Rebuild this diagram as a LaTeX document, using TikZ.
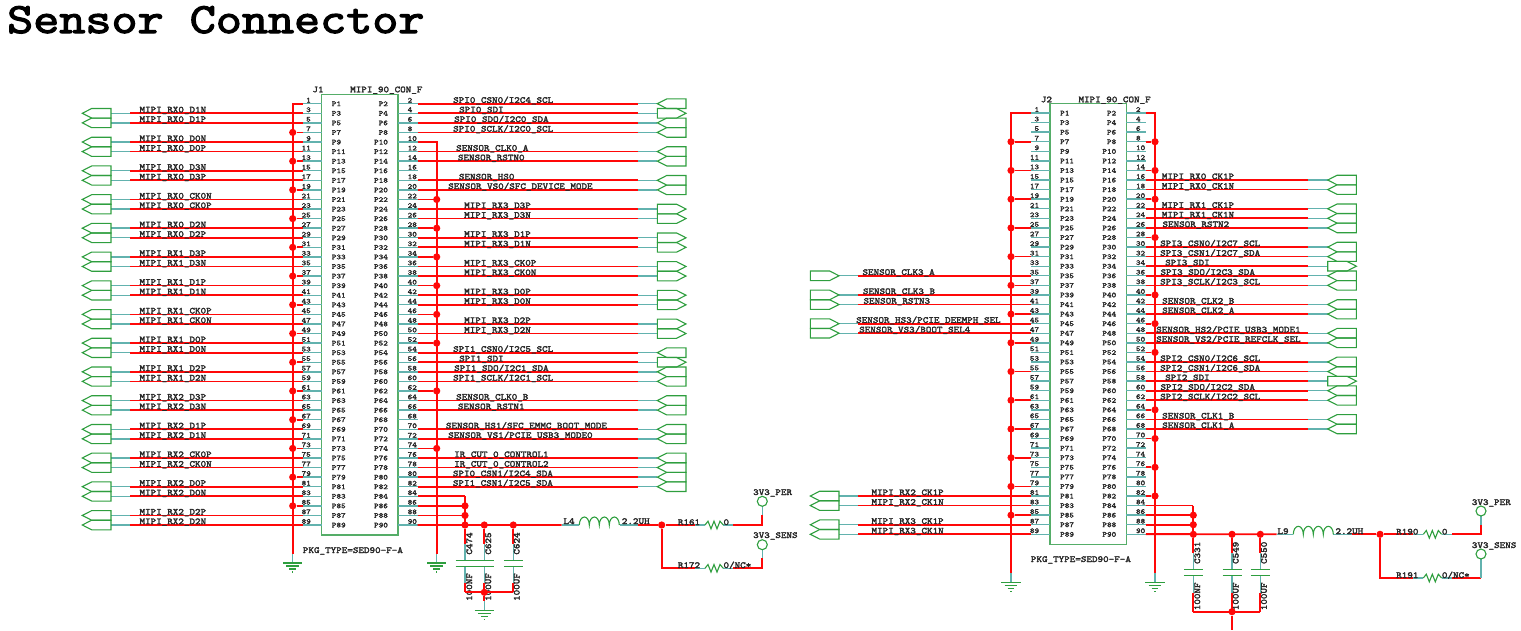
\documentclass[tikz,border=0pt]{standalone}
\usepackage{fontspec}
\newfontfamily\schfont{lmmono10-regular.otf}[FakeBold=2.6,FakeStretch=1.15]
\definecolor{wirered}{HTML}{FF0808}
\definecolor{pinteal}{HTML}{62B2AE}
\definecolor{partgreen}{HTML}{2E9E3E}
\definecolor{boxgreen}{HTML}{55AD68}
\definecolor{inkgrey}{HTML}{282828}
\tikzset{
  wire/.style={draw=wirered,line width=1.7pt},
  pin/.style={draw=pinteal,line width=1.4pt},
  part/.style={draw=partgreen,line width=1.1pt},
  joint/.style={circle,fill=wirered,inner sep=0pt,minimum size=7.2pt},
  lab/.style={inner sep=0pt,anchor=base west,text=inkgrey,font=\schfont\fontsize{9.2}{9.2}\selectfont},
  num/.style={inner sep=0pt,text=inkgrey,font=\schfont\fontsize{7.6}{7.6}\selectfont},
  % port pointing away to the left / to the right, anchored at its left end
  pl/.pic={\draw[part] (0,0) -- (9.4,-4.8) -- (28.7,-4.8) -- (28.7,4.8) -- (9.4,4.8) -- cycle;},
  pr/.pic={\draw[part] (0,-4.8) -- (19.3,-4.8) -- (28.7,0) -- (19.3,4.8) -- (0,4.8) -- cycle;},
  gnd/.pic={\draw[part] (-9.7,0) -- (9.7,0) (-6.4,3) -- (6.4,3) (-3.4,6) -- (3.4,6) (-0.7,9) -- (0.7,9);},
  cap/.pic={\draw[part] (-9.5,0) -- (9.5,0) (-9.5,6) -- (9.5,6);},
  res/.pic={\draw[part] (0,0) -- (3,-3.8) -- (6,3.8) -- (9,-3.8) -- (12,3.8) -- (15,-3.8) -- (18.3,0);},
  coil/.pic={\draw[part] (0,0) arc (180:0:5 and -8) arc (180:0:5 and -8) arc (180:0:5 and -8) arc (180:0:5 and -8);},
  pt/.pic={\draw[part] (0,0) circle (5);}
}
% connector body, pins and pin numbers: name, left edge of box, y of first row
\newcommand\mipicon[3]{%
  \begin{scope}[shift={(#2,#3)}]
    \draw[boxgreen,line width=1.4pt] (0,-9.5) rectangle (76.4,431.3);
    \foreach \k in {1,3,...,89} {
      \pgfmathsetmacro\yy{9.575*(\k-1)/2}
      \coordinate (#1o\k) at (-19.1,\yy);
      \coordinate (#1i\k) at (0,\yy);
      \draw[pin] (#1o\k) -- (#1i\k);
      \node[num,anchor=base east] (#1n\k) at (-10.7,\yy-1.2) {\k};
      \node[num,anchor=base west] (#1m\k) at (10,\yy+2.4) {P\k};
    }
    \foreach \k in {2,4,...,90} {
      \pgfmathsetmacro\yy{9.575*(\k-2)/2}
      \coordinate (#1o\k) at (95.8,\yy);
      \coordinate (#1i\k) at (76.4,\yy);
      \draw[pin] (#1o\k) -- (#1i\k);
      \node[num,anchor=base west] (#1n\k) at (85.8,\yy-1.2) {\k};
      \node[num,anchor=base east] (#1m\k) at (66.4,\yy+2.4) {P\k};
    }
  \end{scope}}
% net from a left hand port to a pin: connector, pin, text start, pic, text
\newcommand\lnet[5]{%
  \coordinate (e) at (#1o#2 -| #1wL);
  \coordinate (t) at (#1o#2 -| #1pL);
  \coordinate (a) at ([xshift=-28.7pt]t);
  \draw[wire] (#1o#2) -- (e);
  \draw[pin] (e) -- (t);
  \pic at (a) {#4};
  \node[lab] (#1t#2) at ([yshift=0.8pt]#3,0 |- #1o#2) {#5};}
\newcommand\rnet[5]{%
  \coordinate (e) at (#1o#2 -| #1wR);
  \coordinate (t) at (#1o#2 -| #1pR);
  \draw[wire] (#1o#2) -- (e);
  \draw[pin] (e) -- (t);
  \pic at (t) {#4};
  \node[lab] (#1t#2) at ([yshift=0.8pt]#3,0 |- #1o#2) {#5};}
% capacitor leg from the rail dot to the bottom rail:
% name, x, y of rail, y of bottom rail, ref, value, text x, length of red end
\newcommand\capleg[8]{%
  \node[joint] (#1d) at (#2,#3) {};
  \coordinate (#1w) at (#2,#3+19);
  \coordinate (#1p) at (#2,#3+35.5);
  \coordinate (#1q) at (#2,#3+41.5);
  \coordinate (#1r) at (#2,#4-#8);
  \coordinate (#1b) at (#2,#4);
  \draw[wire] (#1d) -- (#1w);
  \draw[pin] (#1w) -- (#1p) (#1q) -- (#1r);
  \draw[wire] (#1r) -- (#1b);
  \pic at (#1p) {cap};
  \node[lab,anchor=center,rotate=90] (#1t) at (#7,#3+18.5) {#5};
  \node[lab,anchor=center,rotate=90] (#1v) at (#7,#3+62) {#6};}
\catcode`\_=12
\begin{document}
\begin{tikzpicture}[x=1pt,y=-1pt]
\useasboundingbox (0,0) rectangle (1521,630);
\node[inner sep=0pt,anchor=base west,text=black,font=\schfont\fontsize{43.2}{43.2}\selectfont] (title) at (7,33) {Sensor Connector};

%----- J1
\coordinate (AwL) at (130,0);
\coordinate (ApL) at (111,0);
\coordinate (AwR) at (637.7,0);
\coordinate (ApR) at (657.3,0);
\coordinate (Abl) at (292.7,0);
\coordinate (Abr) at (436.7,0);
\mipicon{A}{321.7}{103.7}
\node[lab] (Aref) at (312.3,92.3) {J1};
\node[lab] (Aname) at (350,92.3) {MIPI_90_CON_F};
\node[lab] (Apkg) at (302.7,553) {PKG_TYPE=SED90-F-A};

% ground buses
\coordinate (Agl) at (292.7,554);
\coordinate (Agr) at (436.7,554);
\coordinate (Agl2) at (292.7,563);
\coordinate (Agr2) at (436.7,563);
\draw[wire] (Ao1) -| (Agl);
\draw[wire] (Ao10) -| (Agr);
\draw[pin] (Agl) -- (Agl2);
\draw[pin] (Agr) -- (Agr2);
\pic at (Agl2) {gnd};
\pic at (Agr2) {gnd};
\foreach \k in {7,13,19,25,31,37,43,49,55,61,67,73,79,85} {
  \node[joint] (Aj\k) at (Ao\k -| Abl) {};
  \draw[wire] (Ao\k) -- (Aj\k);
}
\foreach \k in {22,28,34,40,46,52,62,74} {
  \node[joint] (Aj\k) at (Ao\k -| Abr) {};
  \draw[wire] (Ao\k) -- (Aj\k);
}

% left nets
\foreach \k/\t in {3/MIPI_RX0_D1N,5/MIPI_RX0_D1P,9/MIPI_RX0_D0N,11/MIPI_RX0_D0P,
  15/MIPI_RX0_D3N,17/MIPI_RX0_D3P,21/MIPI_RX0_CK0N,23/MIPI_RX0_CK0P,
  27/MIPI_RX0_D2N,29/MIPI_RX0_D2P,33/MIPI_RX1_D3P,35/MIPI_RX1_D3N,
  39/MIPI_RX1_D1P,41/MIPI_RX1_D1N,45/MIPI_RX1_CK0P,47/MIPI_RX1_CK0N,
  51/MIPI_RX1_D0P,53/MIPI_RX1_D0N,57/MIPI_RX1_D2P,59/MIPI_RX1_D2N,
  63/MIPI_RX2_D3P,65/MIPI_RX2_D3N,69/MIPI_RX2_D1P,71/MIPI_RX2_D1N,
  75/MIPI_RX2_CK0P,77/MIPI_RX2_CK0N,81/MIPI_RX2_D0P,83/MIPI_RX2_D0N,
  87/MIPI_RX2_D2P,89/MIPI_RX2_D2N} {
  \lnet{A}{\k}{139.3}{pl}{\t}
}

% right nets
\foreach \k/\x/\p/\t in {2/453/pl/{SPI0_CSN0/I2C4_SCL},4/459/pr/{SPI0_SDI},
  6/454/pl/{SPI0_SDO/I2C0_SDA},8/453/pl/{SPI0_SCLK/I2C0_SCL},
  12/456/pl/{SENSOR_CLK0_A},14/457.7/pl/{SENSOR_RSTN0},
  18/458.7/pl/{SENSOR_HS0},20/448/pl/{SENSOR_VS0/SFC_DEVICE_MODE},
  24/464/pr/{MIPI_RX3_D3P},26/464/pr/{MIPI_RX3_D3N},
  30/464/pr/{MIPI_RX3_D1P},32/464/pr/{MIPI_RX3_D1N},
  36/464/pr/{MIPI_RX3_CK0P},38/464/pr/{MIPI_RX3_CK0N},
  42/464/pr/{MIPI_RX3_D0P},44/464/pr/{MIPI_RX3_D0N},
  48/464/pr/{MIPI_RX3_D2P},50/464/pr/{MIPI_RX3_D2N},
  54/453/pl/{SPI1_CSN0/I2C5_SCL},56/459/pr/{SPI1_SDI},
  58/454/pl/{SPI1_SDO/I2C1_SDA},60/453/pl/{SPI1_SCLK/I2C1_SCL},
  64/456/pl/{SENSOR_CLK0_B},66/457.7/pl/{SENSOR_RSTN1},
  70/445.7/pl/{SENSOR_HS1/SFC_EMMC_BOOT_MODE},72/448/pl/{SENSOR_VS1/PCIE_USB3_MODE0},
  76/454/pl/{IR_CUT_0_CONTROL1},78/454/pl/{IR_CUT_0_CONTROL2},
  80/452.7/pl/{SPI0_CSN1/I2C4_SDA},82/452.7/pl/{SPI1_CSN1/I2C5_SDA}} {
  \rnet{A}{\k}{\x}{\p}{\t}
}

% power pins and decoupling
\coordinate (Acol) at (465,0);
\foreach \k in {84,86,88,90} \draw[wire] (Ao\k) -- (Ao\k -| Acol);
\draw[wire] (Ao84 -| Acol) -- (Ao90 -| Acol);
\node[joint] (Aj86) at (Ao86 -| Acol) {};
\node[joint] (Aj88) at (Ao88 -| Acol) {};
\capleg{AC}{465}{525}{592.3}{C474}{100NF}{469.3}{9}
\capleg{AD}{484.3}{525}{592.3}{C625}{100UF}{488.3}{9}
\capleg{AE}{513.3}{525}{592.3}{C624}{100UF}{516.7}{9}
\draw[wire] (ACb) -- (AEb);
\node[joint] (AF) at (484.3,592.3) {};
\coordinate (AG) at (484.3,601);
\coordinate (AH) at (484.3,610.7);
\draw[wire] (AF) -- (AG);
\draw[pin] (AG) -- (AH);
\pic at (AH) {gnd};

% inductor, resistors and test points
\coordinate (Al1) at (561.7,525);
\coordinate (Al2) at (579.3,525);
\coordinate (Al3) at (620,525);
\coordinate (Al4) at (637.7,525);
\node[joint] (Am) at (661.7,525) {};
\draw[wire] (Ao90) -- (Al1);
\draw[pin] (Al1) -- (Al2) (Al3) -- (Al4);
\pic at (Al2) {coil};
\draw[wire] (Al4) -- (Am);
\node[lab] (Al) at (563.3,524) {L4};
\node[lab] (Alv) at (621.7,524) {2.2UH};
\coordinate (Ar1) at (695,525);
\coordinate (Ar2) at (705,525);
\coordinate (Ar3) at (723.3,525);
\coordinate (Ar4) at (733.3,525);
\coordinate (Ar5) at (762.3,525);
\coordinate (Ar6) at (762.3,515);
\coordinate (Ar7) at (762.3,506.3);
\coordinate (Ap1) at (762.3,501.3);
\draw[wire] (Am) -- (Ar1);
\draw[pin] (Ar1) -- (Ar2) (Ar3) -- (Ar4);
\pic at (Ar2) {res};
\draw[wire] (Ar4) -- (Ar5) -- (Ar6);
\draw[pin] (Ar6) -- (Ar7);
\pic at (Ap1) {pt};
\node[lab] (Ars) at (677.7,525) {R161};
\node[lab] (Arv) at (723.3,525) {0};
\node[lab] (Apn) at (753,495) {3V3_PER};
\coordinate (As0) at (661.7,568.3);
\coordinate (As1) at (695,568.3);
\coordinate (As2) at (705,568.3);
\coordinate (As3) at (723.3,568.3);
\coordinate (As4) at (733.3,568.3);
\coordinate (As5) at (762.3,568.3);
\coordinate (As6) at (762.3,558);
\coordinate (As7) at (762.3,549.7);
\coordinate (Ap2) at (762.3,544.7);
\draw[wire] (Am) -- (As0) -- (As1);
\draw[pin] (As1) -- (As2) (As3) -- (As4);
\pic at (As2) {res};
\draw[wire] (As4) -- (As5) -- (As6);
\draw[pin] (As6) -- (As7);
\pic at (Ap2) {pt};
\node[lab] (Ass) at (677.7,568) {R172};
\node[lab] (Asv) at (723.3,568) {0/NC*};
\node[lab] (Aqn) at (753,538) {3V3_SENS};

%----- J2
\coordinate (BwL) at (858,0);
\coordinate (BpL) at (839,0);
\coordinate (BwR) at (1308.3,0);
\coordinate (BpR) at (1327.7,0);
\coordinate (Bbl) at (1011,0);
\coordinate (Bbr) at (1155,0);
\mipicon{B}{1050}{113}
\node[lab] (Bref) at (1040.7,102.3) {J2};
\node[lab] (Bname) at (1078.3,102.3) {MIPI_90_CON_F};
\node[lab] (Bpkg) at (1030.7,562) {PKG_TYPE=SED90-F-A};

\coordinate (Bgl) at (1011,573.3);
\coordinate (Bgr) at (1155,573.3);
\coordinate (Bgl2) at (1011,582.3);
\coordinate (Bgr2) at (1155,582.3);
\draw[wire] (Bo1) -| (Bgl);
\draw[wire] (Bo2) -| (Bgr);
\draw[pin] (Bgl) -- (Bgl2);
\draw[pin] (Bgr) -- (Bgr2);
\pic at (Bgl2) {gnd};
\pic at (Bgr2) {gnd};
\foreach \k in {7,13,19,25,31,37,43,49,55,61,67,73,79,85} {
  \node[joint] (Bj\k) at (Bo\k -| Bbl) {};
  \draw[wire] (Bo\k) -- (Bj\k);
}
\foreach \k in {8,14,20,28,40,46,52,64,70,76,82} {
  \node[joint] (Bj\k) at (Bo\k -| Bbr) {};
  \draw[wire] (Bo\k) -- (Bj\k);
}

\foreach \k/\x/\p/\t in {35/862.3/pr/{SENSOR_CLK3_A},39/862.7/pr/{SENSOR_CLK3_B},
  41/863.3/pr/{SENSOR_RSTN3},45/856/pr/{SENSOR_HS3/PCIE_DEEMPH_SEL},
  47/859/pr/{SENSOR_VS3/BOOT_SEL4},81/871.3/pl/{MIPI_RX2_CK1P},
  83/871.3/pl/{MIPI_RX2_CK1N},87/871.3/pl/{MIPI_RX3_CK1P},89/871.3/pl/{MIPI_RX3_CK1N}} {
  \lnet{B}{\k}{\x}{\p}{\t}
}

\foreach \k/\x/\p/\t in {16/1161.7/pl/{MIPI_RX0_CK1P},18/1161.7/pl/{MIPI_RX0_CK1N},
  22/1161.7/pl/{MIPI_RX1_CK1P},24/1161.7/pl/{MIPI_RX1_CK1N},26/1162.3/pl/{SENSOR_RSTN2},
  30/1160/pl/{SPI3_CSN0/I2C7_SCL},32/1160/pl/{SPI3_CSN1/I2C7_SDA},34/1165/pr/{SPI3_SDI},
  36/1160.3/pl/{SPI3_SDO/I2C3_SDA},38/1160/pl/{SPI3_SCLK/I2C3_SCL},
  42/1162/pl/{SENSOR_CLK2_B},44/1162/pl/{SENSOR_CLK2_A},
  48/1156/pl/{SENSOR_HS2/PCIE_USB3_MODE1},50/1156/pl/{SENSOR_VS2/PCIE_REFCLK_SEL},
  54/1160/pl/{SPI2_CSN0/I2C6_SCL},56/1160/pl/{SPI2_CSN1/I2C6_SDA},58/1165/pr/{SPI2_SDI},
  60/1160.3/pl/{SPI2_SDO/I2C2_SDA},62/1160/pl/{SPI2_SCLK/I2C2_SCL},
  66/1162/pl/{SENSOR_CLK1_B},68/1162/pl/{SENSOR_CLK1_A}} {
  \rnet{B}{\k}{\x}{\p}{\t}
}

\coordinate (Bcol) at (1193.3,0);
\foreach \k in {84,86,88,90} \draw[wire] (Bo\k) -- (Bo\k -| Bcol);
\draw[wire] (Bo84 -| Bcol) -- (Bo90 -| Bcol);
\node[joint] (Bj86) at (Bo86 -| Bcol) {};
\node[joint] (Bj88) at (Bo88 -| Bcol) {};
\capleg{BC}{1193.3}{534.3}{611.7}{C331}{100NF}{1197.3}{19}
\capleg{BD}{1232}{534.3}{611.7}{C549}{100UF}{1235.7}{19}
\capleg{BE}{1260.3}{534.3}{611.7}{C550}{100UF}{1264}{19}
\draw[wire] (BCb) -- (BEb);
\node[joint] (BF) at (1232,611.7) {};
\coordinate (BG) at (1232,630);
\draw[wire] (BF) -- (BG);

\coordinate (Bl1) at (1276.7,534.3);
\coordinate (Bl2) at (1293.3,534.3);
\coordinate (Bl3) at (1333.3,534.3);
\coordinate (Bl4) at (1351.7,534.3);
\node[joint] (Bm) at (1380,534.3) {};
\draw[wire] (Bo90) -- (Bl1);
\draw[pin] (Bl1) -- (Bl2) (Bl3) -- (Bl4);
\pic at (Bl2) {coil};
\draw[wire] (Bl4) -- (Bm);
\node[lab] (Bl) at (1277.3,534) {L9};
\node[lab] (Blv) at (1335.3,534) {2.2UH};
\coordinate (Br1) at (1413.3,534.3);
\coordinate (Br2) at (1423.3,534.3);
\coordinate (Br3) at (1441.7,534.3);
\coordinate (Br4) at (1452,534.3);
\coordinate (Br5) at (1481,534.3);
\coordinate (Br6) at (1481,525);
\coordinate (Br7) at (1481,516);
\coordinate (Bp1) at (1481,511);
\draw[wire] (Bm) -- (Br1);
\draw[pin] (Br1) -- (Br2) (Br3) -- (Br4);
\pic at (Br2) {res};
\draw[wire] (Br4) -- (Br5) -- (Br6);
\draw[pin] (Br6) -- (Br7);
\pic at (Bp1) {pt};
\node[lab] (Brs) at (1396,534.5) {R190};
\node[lab] (Brv) at (1441.7,534.5) {0};
\node[lab] (Bpn) at (1471.7,505) {3V3_PER};
\coordinate (Bs0) at (1380,578);
\coordinate (Bs1) at (1413.3,578);
\coordinate (Bs2) at (1423.3,578);
\coordinate (Bs3) at (1441.7,578);
\coordinate (Bs4) at (1452,578);
\coordinate (Bs5) at (1481,578);
\coordinate (Bs6) at (1481,559);
\coordinate (Bp2) at (1481,554);
\draw[wire] (Bm) -- (Bs0) -- (Bs1);
\draw[pin] (Bs1) -- (Bs2) (Bs3) -- (Bs4);
\pic at (Bs2) {res};
\draw[wire] (Bs4) -- (Bs5);
\draw[pin] (Bs5) -- (Bs6);
\pic at (Bp2) {pt};
\node[lab] (Bss) at (1396,578) {R191};
\node[lab] (Bsv) at (1441.7,578) {0/NC*};
\node[lab] (Bqn) at (1471.7,548) {3V3_SENS};
\end{tikzpicture}
\end{document}
